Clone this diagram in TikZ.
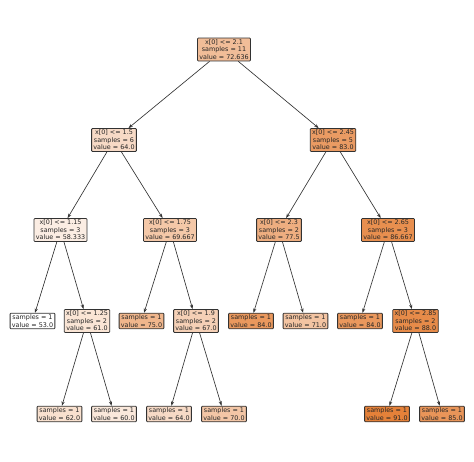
\documentclass[tikz,border=0pt]{standalone}
\usepackage{fontspec}
\setmainfont{DejaVu Sans}
\usetikzlibrary{arrows.meta}
\definecolor{base}{RGB}{229,129,57}
\definecolor{edge}{RGB}{50,50,50}
\tikzset{
  tn/.style={draw=edge, line width=0.8pt, rounded corners=0.8pt, align=center,
    font=\fontsize{6.4}{7.4}\selectfont, inner xsep=1.8pt, inner ysep=1.6pt, text=black!85},
  arr/.style={-{Stealth[length=4.5pt,width=3.2pt]}, line width=0.65pt, draw=black!80}
}
\begin{document}
\begin{tikzpicture}[x=1pt,y=-1pt]
\useasboundingbox (0,0) rectangle (474,462);
\fill[white] (0,0) rectangle (474,462);
% level 0
\node[tn, fill=base!52!white] (n0) at (224,49.5) {x[0] <= 2.1\\samples = 11\\value = 72.636};
% level 1
\node[tn, fill=base!29!white] (n1) at (114,140) {x[0] <= 1.5\\samples = 6\\value = 64.0};
\node[tn, fill=base!79!white] (n2) at (333,140) {x[0] <= 2.45\\samples = 5\\value = 83.0};
% level 2
\node[tn, fill=base!14!white] (n3) at (60.5,230) {x[0] <= 1.15\\samples = 3\\value = 58.333};
\node[tn, fill=base!44!white] (n4) at (170,230) {x[0] <= 1.75\\samples = 3\\value = 69.667};
\node[tn, fill=base!64!white] (n5) at (279,230) {x[0] <= 2.3\\samples = 2\\value = 77.5};
\node[tn, fill=base!89!white] (n6) at (388,230) {x[0] <= 2.65\\samples = 3\\value = 86.667};
% level 3
\node[tn, fill=white] (n7) at (32.5,321) {samples = 1\\value = 53.0};
\node[tn, fill=base!21!white] (n8) at (87,321) {x[0] <= 1.25\\samples = 2\\value = 61.0};
\node[tn, fill=base!58!white] (n9) at (141.5,321) {samples = 1\\value = 75.0};
\node[tn, fill=base!37!white] (n10) at (196,321) {x[0] <= 1.9\\samples = 2\\value = 67.0};
\node[tn, fill=base!82!white] (n11) at (251,321) {samples = 1\\value = 84.0};
\node[tn, fill=base!47!white] (n12) at (305.5,321) {samples = 1\\value = 71.0};
\node[tn, fill=base!82!white] (n13) at (360,321) {samples = 1\\value = 84.0};
\node[tn, fill=base!92!white] (n14) at (415.5,321) {x[0] <= 2.85\\samples = 2\\value = 88.0};
% level 4
\node[tn, fill=base!24!white] (n15) at (59.5,414) {samples = 1\\value = 62.0};
\node[tn, fill=base!18!white] (n16) at (114,414) {samples = 1\\value = 60.0};
\node[tn, fill=base!29!white] (n17) at (169,414) {samples = 1\\value = 64.0};
\node[tn, fill=base!45!white] (n18) at (224,414) {samples = 1\\value = 70.0};
\node[tn, fill=base!100!white] (n19) at (387,414) {samples = 1\\value = 91.0};
\node[tn, fill=base!84!white] (n20) at (442,414) {samples = 1\\value = 85.0};
% edges
\draw[arr] (n0) -- (n1);
\draw[arr] (n0) -- (n2);
\draw[arr] (n1) -- (n3);
\draw[arr] (n1) -- (n4);
\draw[arr] (n2) -- (n5);
\draw[arr] (n2) -- (n6);
\draw[arr] (n3) -- (n7);
\draw[arr] (n3) -- (n8);
\draw[arr] (n4) -- (n9);
\draw[arr] (n4) -- (n10);
\draw[arr] (n5) -- (n11);
\draw[arr] (n5) -- (n12);
\draw[arr] (n6) -- (n13);
\draw[arr] (n6) -- (n14);
\draw[arr] (n8) -- (n15);
\draw[arr] (n8) -- (n16);
\draw[arr] (n10) -- (n17);
\draw[arr] (n10) -- (n18);
\draw[arr] (n14) -- (n19);
\draw[arr] (n14) -- (n20);
\end{tikzpicture}
\end{document}
